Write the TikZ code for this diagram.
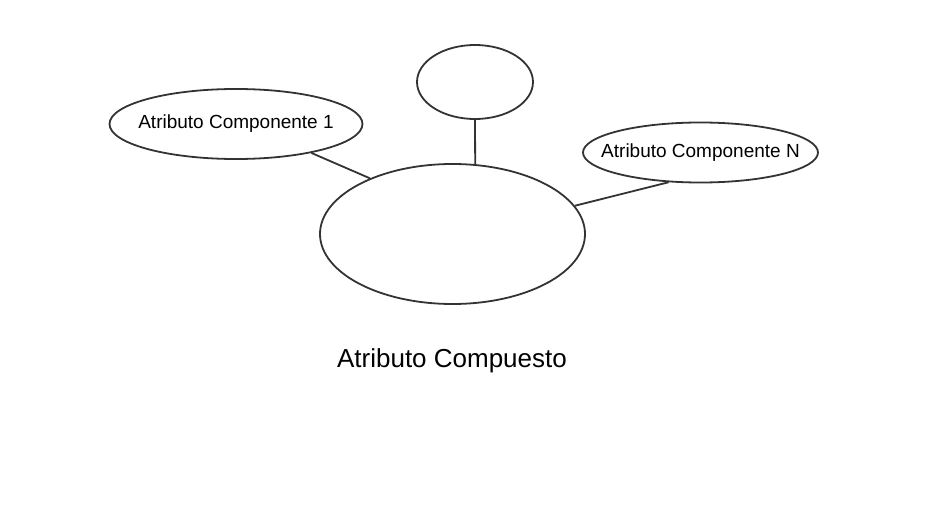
\documentclass[tikz,border=0pt]{standalone}
\usepackage{fontspec}
\setmainfont{Liberation Sans}
\usetikzlibrary{shapes.geometric}

\begin{document}
\begin{tikzpicture}[
        x=1pt, y=-1pt,
        attr/.style={ellipse, draw=black!80, line width=1.8pt, inner sep=0pt, font=\fontsize{19}{23}\selectfont},
        line/.style={draw=black!80, line width=1.8pt}
        ]
        \useasboundingbox (0,0) rectangle (946,519);
        \node[attr, minimum width=265pt, minimum height=140pt] (compuesto) at (452.5,234) {};
        \node[attr, minimum width=116pt, minimum height=74pt] (vacio) at (475,82) {};
        \node[attr, minimum width=253pt, minimum height=70pt] (comp1) at (236,124) {\makebox[0pt]{Atributo Componente 1}};
        \node[attr, minimum width=235pt, minimum height=60pt] (compN) at (700.5,152.5) {\makebox[0pt]{Atributo Componente N}};
        \node[anchor=base, font=\fontsize{26}{30}\selectfont] (titulo) at (452,367) {Atributo Compuesto};
        
        \path[line] (comp1.-21) -- (compuesto.146);
        \path[line] (vacio.south) -- (compuesto.72);
        \path[line] (compN.-137) -- (compuesto.13);
      \end{tikzpicture}
\end{document}
